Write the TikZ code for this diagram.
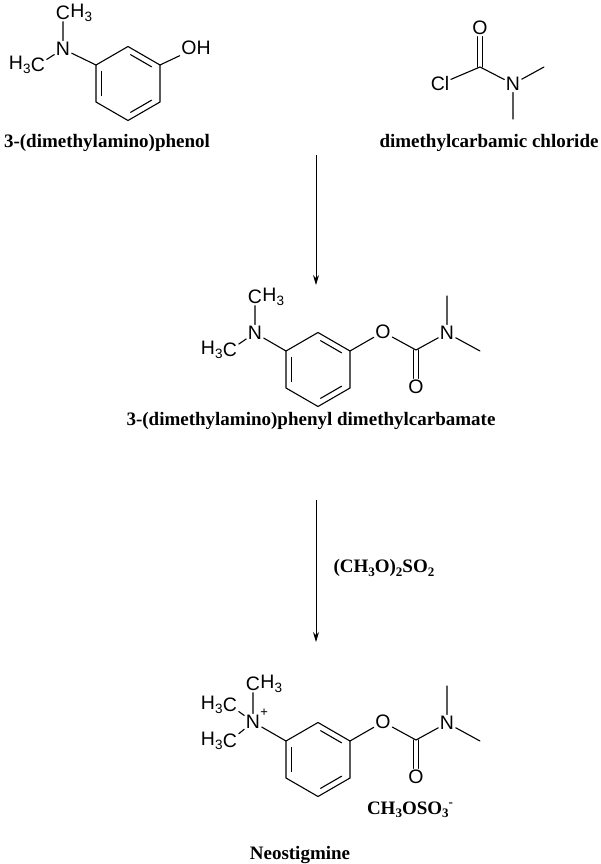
\documentclass[tikz,border=0pt]{standalone}
\usepackage{fontspec}
\usetikzlibrary{calc,arrows.meta}
\setmainfont{Liberation Serif}
\newfontfamily\atomfont{Liberation Sans}
\newcommand\sub[1]{\raisebox{-0.45ex}{\fontsize{13.5}{13.5}\selectfont #1}}
\newcommand\lsub[1]{\raisebox{-0.4ex}{\fontsize{13}{13}\selectfont #1}}
\newcommand\supr[1]{\raisebox{0.9ex}{\fontsize{13}{13}\selectfont #1}}
\begin{document}
\begin{tikzpicture}[x=1pt,y=-1pt,
  atom/.style={font=\atomfont\fontsize{19.5}{19.5}\selectfont,inner sep=1.5pt},
  hh/.style={font=\atomfont\fontsize{19.5}{19.5}\selectfont,inner sep=0pt},
  bond/.style={line width=1.1pt,line cap=round},
  lab/.style={font=\bfseries\fontsize{19}{19}\selectfont},
  rxn/.style={line width=0.9pt,-{Stealth[length=10pt,width=6pt]}}]
\useasboundingbox (0,0) rectangle (600,864);
\newcommand\ring[3]{%
  \coordinate (#3t) at (#1,#2-37);
  \coordinate (#3ur) at (#1+32,#2-18.5);
  \coordinate (#3lr) at (#1+32,#2+18.5);
  \coordinate (#3b) at (#1,#2+37);
  \coordinate (#3ll) at (#1-32,#2+18.5);
  \coordinate (#3ul) at (#1-32,#2-18.5);
  \draw[bond] (#3t)--(#3ur)--(#3lr)--(#3b)--(#3ll)--(#3ul)--cycle;
  \draw[bond] ($(#1,#2)!0.82!(#3ul)!0.1!($(#1,#2)!0.82!(#3ll)$)$) -- ($(#1,#2)!0.82!(#3ll)!0.1!($(#1,#2)!0.82!(#3ul)$)$);
  \draw[bond] ($(#1,#2)!0.82!(#3t)!0.1!($(#1,#2)!0.82!(#3ur)$)$) -- ($(#1,#2)!0.82!(#3ur)!0.1!($(#1,#2)!0.82!(#3t)$)$);
  \draw[bond] ($(#1,#2)!0.82!(#3b)!0.1!($(#1,#2)!0.82!(#3lr)$)$) -- ($(#1,#2)!0.82!(#3lr)!0.1!($(#1,#2)!0.82!(#3b)$)$);
}
% ---------- molecule 1
\ring{128}{83.5}{a}
\node[atom] (aN) at (63,49) {N};
\node[atom] (aC1) at (63,13) {C};
\node[hh,anchor=west] at ([xshift=-1.5pt]aC1.east) {H\sub{3}};
\node[atom] (aC2) at (38,65) {C};
\node[hh,anchor=east] at ([xshift=1.5pt]aC2.west) {H\sub{3}};
\node[atom] (aO) at (196,48) {OH};
\draw[bond] (aN)--(aul) (aN)--(aC1) (aN)--(aC2) (aur)--(aO);
\node[lab] (l1) at (107,143) {3-(dimethylamino)phenol};
% ---------- dimethylcarbamic chloride
\coordinate (bC) at (480,67);
\node[atom] (bO) at (480,28) {O};
\node[atom] (bCl) at (440,84) {Cl};
\node[atom] (bN) at (513,84) {N};
\coordinate (bM1) at (544,67);
\coordinate (bM2) at (513,119);
\draw[bond] (bCl)--(bC)--(bN)--(bM1) (bN)--(bM2);
\draw[bond] ([xshift=-2.5pt]bO.south)--([xshift=-2.5pt]bC) ([xshift=2.5pt]bO.south)--([xshift=2.5pt]bC);
\node[lab] (l2) at (489,143) {dimethylcarbamic chloride};
% ---------- arrow 1
\coordinate (r1s) at (316,155);
\coordinate (r1e) at (316,285);
\draw[rxn] (r1s)--(r1e);
% ---------- molecule 2
\ring{318}{369.5}{c}
\node[atom] (cN) at (255,333) {N};
\node[atom] (cC1) at (255,297) {C};
\node[hh,anchor=west] at ([xshift=-1.5pt]cC1.east) {H\sub{3}};
\node[atom] (cC2) at (230,350) {C};
\node[hh,anchor=east] at ([xshift=1.5pt]cC2.west) {H\sub{3}};
\node[atom] (cO) at (383,332) {O};
\coordinate (cC) at (416,350);
\node[atom] (cO2) at (416,387) {O};
\node[atom] (cN2) at (447,333) {N};
\coordinate (cM1) at (447,296);
\coordinate (cM2) at (480,351);
\draw[bond] (cN)--(cul) (cN)--(cC1) (cN)--(cC2) (cur)--(cO)--(cC)--(cN2)--(cM1) (cN2)--(cM2);
\draw[bond] ([xshift=-2.5pt]cO2.north)--([xshift=-2.5pt]cC) ([xshift=2.5pt]cO2.north)--([xshift=2.5pt]cC);
\node[lab] (l3) at (311,421) {3-(dimethylamino)phenyl dimethylcarbamate};
% ---------- arrow 2
\coordinate (r2s) at (316,500);
\coordinate (r2e) at (316,642);
\draw[rxn] (r2s)--(r2e);
\node[lab,anchor=west] (rg) at (330,568) {(CH\lsub{3}O)\lsub{2}SO\lsub{2}};
% ---------- neostigmine
\ring{318}{759.5}{d}
\node[atom] (dN) at (253,722) {N};
\node[hh,anchor=south west] at ([xshift=-1.5pt,yshift=-3pt]dN.north east) {\fontsize{13}{13}\selectfont +};
\node[atom] (dC1) at (253,684) {C};
\node[hh,anchor=west] at ([xshift=-1.5pt]dC1.east) {H\sub{3}};
\node[atom] (dC2) at (230,705) {C};
\node[hh,anchor=east] at ([xshift=1.5pt]dC2.west) {H\sub{3}};
\node[atom] (dC3) at (230,741) {C};
\node[hh,anchor=east] at ([xshift=1.5pt]dC3.west) {H\sub{3}};
\node[atom] (dO) at (383,722) {O};
\coordinate (dC) at (416,740);
\node[atom] (dO2) at (416,777) {O};
\node[atom] (dN2) at (447,723) {N};
\coordinate (dM1) at (447,686);
\coordinate (dM2) at (480,741);
\draw[bond] (dN)--(dul) (dN)--(dC1) (dN)--(dC2) (dN)--(dC3) (dur)--(dO)--(dC)--(dN2)--(dM1) (dN2)--(dM2);
\draw[bond] ([xshift=-2.5pt]dO2.north)--([xshift=-2.5pt]dC) ([xshift=2.5pt]dO2.north)--([xshift=2.5pt]dC);
\node[lab] (anion) at (410,810) {CH\lsub{3}OSO\lsub{3}\supr{-}};
\node[lab] (l4) at (300,855) {Neostigmine};
\end{tikzpicture}
\end{document}
